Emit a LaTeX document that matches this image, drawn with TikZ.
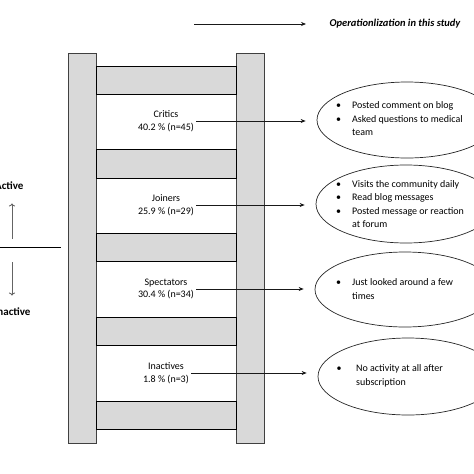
\documentclass[tikz,border=0pt]{standalone}
\usepackage{fontspec}
\setmainfont{Carlito}
\usepackage{tikz}
\usetikzlibrary{shapes.geometric,arrows.meta,positioning,calc}
\definecolor{lgray}{RGB}{217,217,217}
\definecolor{dgray}{RGB}{100,100,100}
\newcommand{\bitem}[1]{\makebox[16pt][l]{•}#1}
\newcommand{\bcont}[1]{\hspace*{16pt}#1}

\begin{document}
\begin{tikzpicture}[x=1pt, y=-1pt,
    rail/.style={draw=black!75, fill=lgray, line width=0.8pt},
    rung/.style={draw=black, fill=lgray, line width=0.9pt},
    stage/.style={font=\fontsize{10}{12.5}\selectfont, align=center, inner sep=2pt},
    oval/.style={ellipse, draw=black!85, line width=0.7pt, minimum width=180pt, minimum height=76pt, inner sep=0pt},
    items/.style={font=\fontsize{10}{13.5}\selectfont, align=left, anchor=west, inner sep=0pt},
    to_oval/.style={-{Stealth[length=5pt, width=4pt]}, line width=0.75pt, black!90},
    pole/.style={-{To[length=3pt]}, line width=0.9pt, dgray},
    side/.style={font=\fontsize{11}{13}\selectfont\bfseries}
]
\useasboundingbox (0,0) rectangle (474,474);
\clip (0,0) rectangle (474,474);

% Heading (top)
\node[font=\fontsize{10.5}{12}\selectfont\bfseries\itshape, anchor=west] (opn) at (326,24) {Operationlization in this study};
\coordinate (optail) at (194,24);
\draw[to_oval, shorten >=20pt] (optail) -- (opn.west);

% Active / inactive scale (left)
\node[side, anchor=east] (act) at (27,186) {Active};
\node[side, anchor=east] (inact) at (34,312) {Inactive};
\draw[line width=0.9pt] (0,247) -- (61,247);
\coordinate (upfoot) at (12,239);
\coordinate (downfoot) at (12,262);
\draw[pole, shorten >=10pt] (upfoot) -- (upfoot |- act.south);
\draw[pole, shorten >=9pt] (downfoot) -- (downfoot |- inact.north);

% Ladder (middle)
\draw[rail] (68,53) rectangle (96,443);
\draw[rail] (236,53) rectangle (264,443);
\foreach \y in {66,149.5,233,317,401}
  \draw[rung] (96,\y) rectangle (236,\y+28.5);

\node[stage] (critics) at (166,121) {Critics\\40.2 \% (n=45)};
\node[stage] (joiners) at (166,205) {Joiners\\25.9 \% (n=29)};
\node[stage] (specs) at (166,289) {Spectators\\30.4 \% (n=34)};
\node[stage] (inacts) at (166,373) {Inactives\\1.8 \% (n=3)};

% Operationalization (right)
\node[oval] (e1) at (407,120) {};
\node[oval, minimum height=78pt] (e2) at (406,204) {};
\node[oval, minimum height=75pt] (e3) at (405,289.5) {};
\node[oval, minimum height=77pt] (e4) at (408,376.5) {};

\node[items] (t1) at (336,119) {\bitem{Posted comment on blog}\\\bitem{Asked questions to medical}\\\bcont{team}};
\node[items] (t2) at (336,204) {\bitem{Visits the community daily}\\\bitem{Read blog messages}\\\bitem{Posted message or reaction}\\\bcont{at forum}};
\node[items] (t3) at (336,289) {\bitem{Just looked around a few}\\\bcont{times}};
\node[items] (t4) at (336.5,376) {\makebox[19.5pt][l]{•}No activity at all after\\\hspace*{19.5pt}subscription};

\draw[to_oval, shorten >=11pt] (critics.east) -- (critics.east -| e1.west);
\draw[to_oval, shorten >=11pt] (joiners.east) -- (joiners.east -| e2.west);
\draw[to_oval, shorten >=11pt] (specs.east) -- (specs.east -| e3.west);
\draw[to_oval, shorten >=11pt] (inacts.east) -- (inacts.east -| e4.west);

\end{tikzpicture}
\end{document}
